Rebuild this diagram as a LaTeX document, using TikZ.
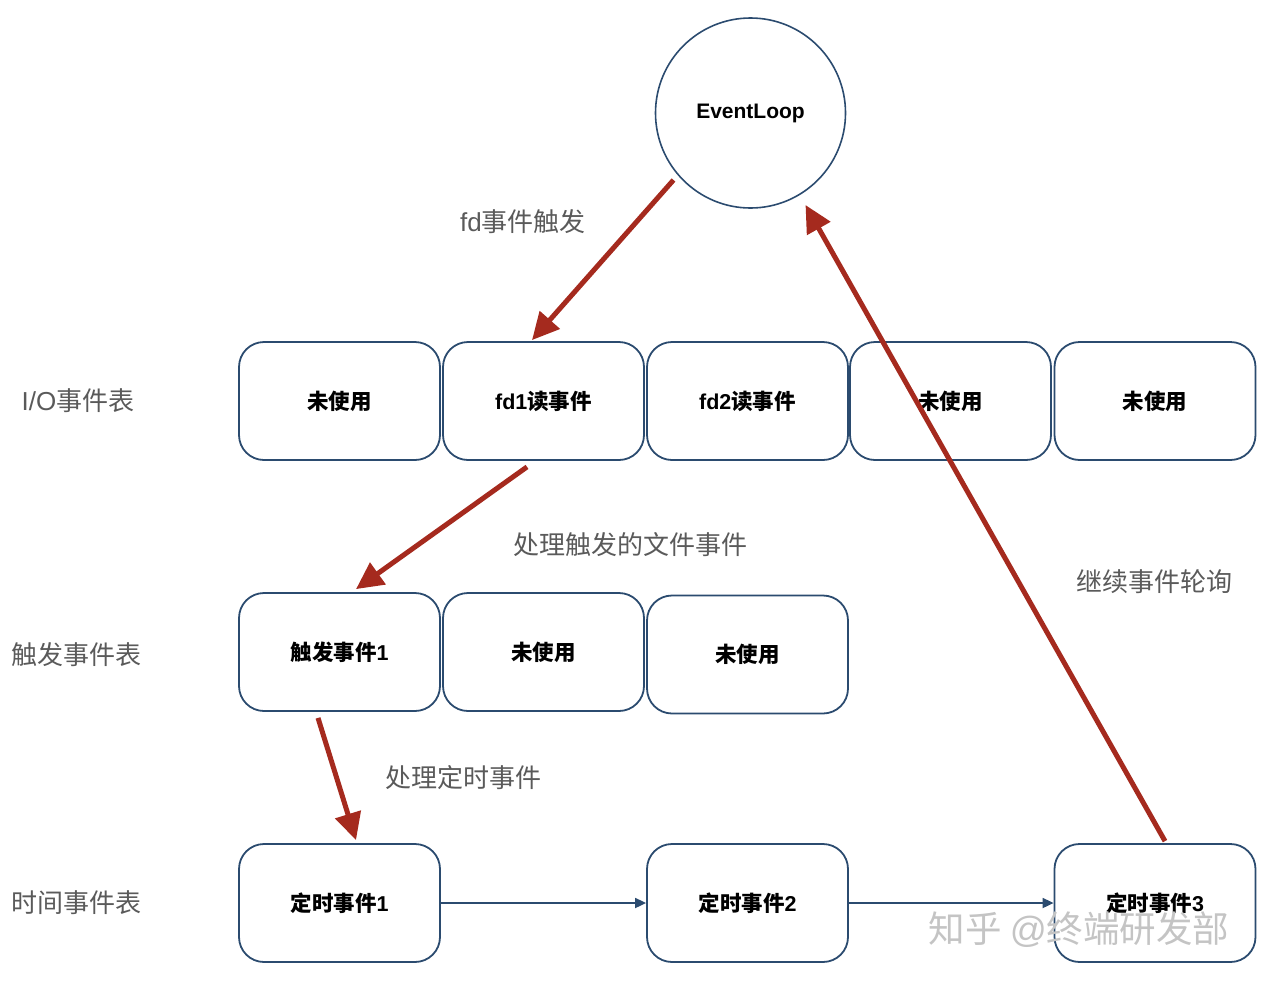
\documentclass[tikz,border=0pt]{standalone}
\usepackage{fontspec}
\setmainfont{Noto Sans CJK SC}
\newfontfamily\latfont{Liberation Sans}
\usetikzlibrary{arrows.meta,calc}
\definecolor{boxblue}{HTML}{2B4B6F}
\definecolor{arrred}{HTML}{A52A1E}
\definecolor{lblgray}{HTML}{5A5A5A}
\definecolor{wmgray}{HTML}{C4C4C4}
\begin{document}
\begin{tikzpicture}[x=1pt,y=-1pt,
  cell/.style={draw=boxblue,line width=1.8pt,rounded corners=25pt,minimum width=201pt,minimum height=118pt,inner sep=0pt,font=\fontsize{21.5}{24}\selectfont\bfseries,text=black},
  rowlbl/.style={font=\fontsize{26}{30}\selectfont,text=lblgray,inner sep=0pt},
  flowlbl/.style={font=\fontsize{26}{30}\selectfont,text=lblgray,inner sep=0pt},
  redarr/.style={draw=arrred,line width=5pt,-{Triangle[length=27pt,width=26pt]}},
  bluearr/.style={draw=boxblue,line width=1.8pt,-{Triangle[length=11pt,width=10pt]}}]
\useasboundingbox (0,0) rectangle (1266,980);
% EventLoop circle
\node[circle,draw=boxblue,line width=1.6pt,minimum size=190pt,inner sep=0pt,font=\latfont\fontsize{21}{24}\selectfont\bfseries] (ev) at (750.5,113) {\raisebox{-2pt}{EventLoop}};
% row labels
\node[rowlbl] (l1) at (78,401) {{\latfont I/O}事件表};
\node[rowlbl] (l2) at (77,655) {触发事件表};
\node[rowlbl] (l3) at (77,903) {时间事件表};
% I/O row
\node[cell] (a1) at (339.5,401) {未使用};
\node[cell] (a2) at (543.5,401) {{\latfont fd1}读事件};
\node[cell] (a3) at (747.5,401) {{\latfont fd2}读事件};
\node[cell] (a4) at (950.5,401) {未使用};
\node[cell] (a5) at (1155,401) {未使用};
% trigger row
\node[cell] (b1) at (339.5,652) {触发事件{\latfont 1}};
\node[cell] (b2) at (543.5,652) {未使用};
\node[cell] (b3) at (747.5,654.5) {未使用};
% timer row
\node[cell] (c1) at (339.5,903) {定时事件{\latfont 1}};
\node[cell] (c2) at (747.5,903) {定时事件{\latfont 2}};
\node[cell] (c3) at (1155,903) {定时事件{\latfont 3}};
% flow labels
\node[flowlbl] (f1) at (523,222) {{\latfont fd}事件触发};
\node[flowlbl] (f2) at (630,545) {处理触发的文件事件};
\node[flowlbl] (f3) at (463,778) {处理定时事件};
\node[flowlbl] (f4) at (1154,582) {继续事件轮询};
% red arrows
\draw[redarr] ($(ev.center)+(-77,67)$) -- ($(a2.north)+(-11.5,-1)$);
\draw[redarr] ($(a2.south)+(-16.5,6)$) -- ($(b1.north)+(16.5,-3)$);
\draw[redarr] ($(b1.south)+(-21.5,6)$) -- ($(c1.north)+(16.5,-3)$);
\draw[redarr] ($(c3.north)+(10,-2)$) -- ($(ev.center)+(55,92)$);
% blue arrows
\draw[bluearr] (c1.east) -- (c2.west);
\draw[bluearr] (c2.east) -- (c3.west);
% watermark
\node[font=\fontsize{36.5}{40}\selectfont,text=wmgray,inner sep=0pt] (wm) at (1079,930) {知乎 {\latfont @}终端研发部};
\end{tikzpicture}
\end{document}
